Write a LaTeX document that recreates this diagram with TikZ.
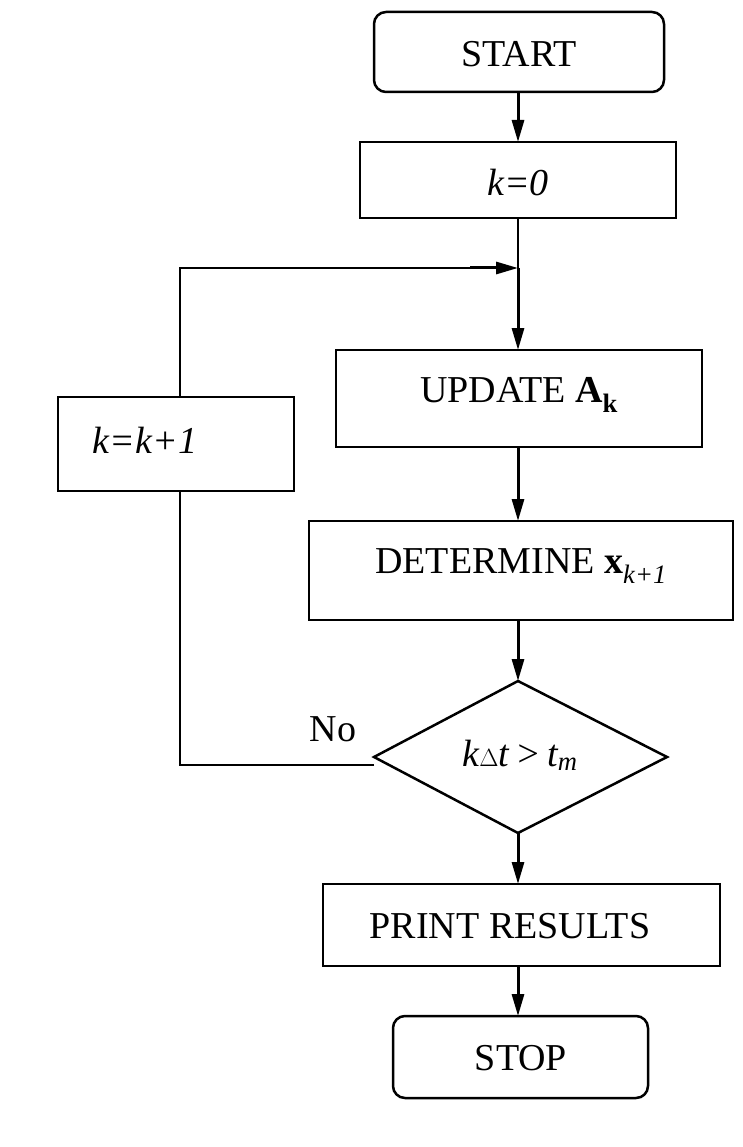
\documentclass[tikz,border=0pt]{standalone}
\usepackage{fontspec}
\setmainfont{Liberation Serif}
\usetikzlibrary{shapes.geometric,arrows.meta}
\begin{document}
\begin{tikzpicture}[x=1pt,y=-1pt,
  box/.style={draw,line width=2.5pt,inner sep=0pt},
  lbl/.style={font=\fontsize{38}{44}\selectfont},
  arr/.style={line width=3pt,-{Triangle[length=22pt,width=12pt]}},
  ln/.style={line width=2.5pt}]
\useasboundingbox (0,0) rectangle (742,1147);
\draw[box,rounded corners=12pt] (374,12) rectangle (664,92);
\node[lbl] (start) at (519,54) {START};
\draw[box] (360,142) rectangle (676,218);
\node[lbl] (k0) at (518,183) {\itshape k=0};
\draw[box] (336,350) rectangle (702,447);
\node[lbl] (upd) at (519,395) {UPDATE \textbf{A\textsubscript{k}}};
\draw[box] (309,521) rectangle (733,620);
\node[lbl] (det) at (521,566) {DETERMINE \textbf{x}\textsubscript{\itshape k+1}};
\draw[box] (518,681) -- (667,757) -- (518,833) -- (374,757) -- cycle;
\node[lbl] (dia) at (520,755) {\itshape k$\Delta$t\,>\,t\textsubscript{m}};
\draw[box] (323,884) rectangle (720,966);
\node[lbl] (pr) at (510,926) {PRINT RESULTS};
\draw[box,rounded corners=12pt] (393,1016) rectangle (648,1098);
\node[lbl] (stop) at (521,1058) {STOP};
\draw[box] (58,397) rectangle (294,491);
\node[lbl] (kk) at (145,440) {\itshape k=k+1};
\node[lbl] (no) at (333,729) {No};
\coordinate (j) at (518,268);
\draw[arr] (518,92) -- (518,142);
\draw[ln] (518,218) -- (j);
\draw[arr] (j) -- (518,350);
\draw[arr] (518,447) -- (518,521);
\draw[arr] (518,620) -- (518,681);
\draw[arr] (518,833) -- (518,884);
\draw[arr] (518,966) -- (518,1016);
\draw[ln] (374,765) -- (180,765) -- (180,491);
\draw[ln] (180,397) -- (180,268) -- (496,268);
\draw[arr] (470,268) -- (j);
\end{tikzpicture}
\end{document}
